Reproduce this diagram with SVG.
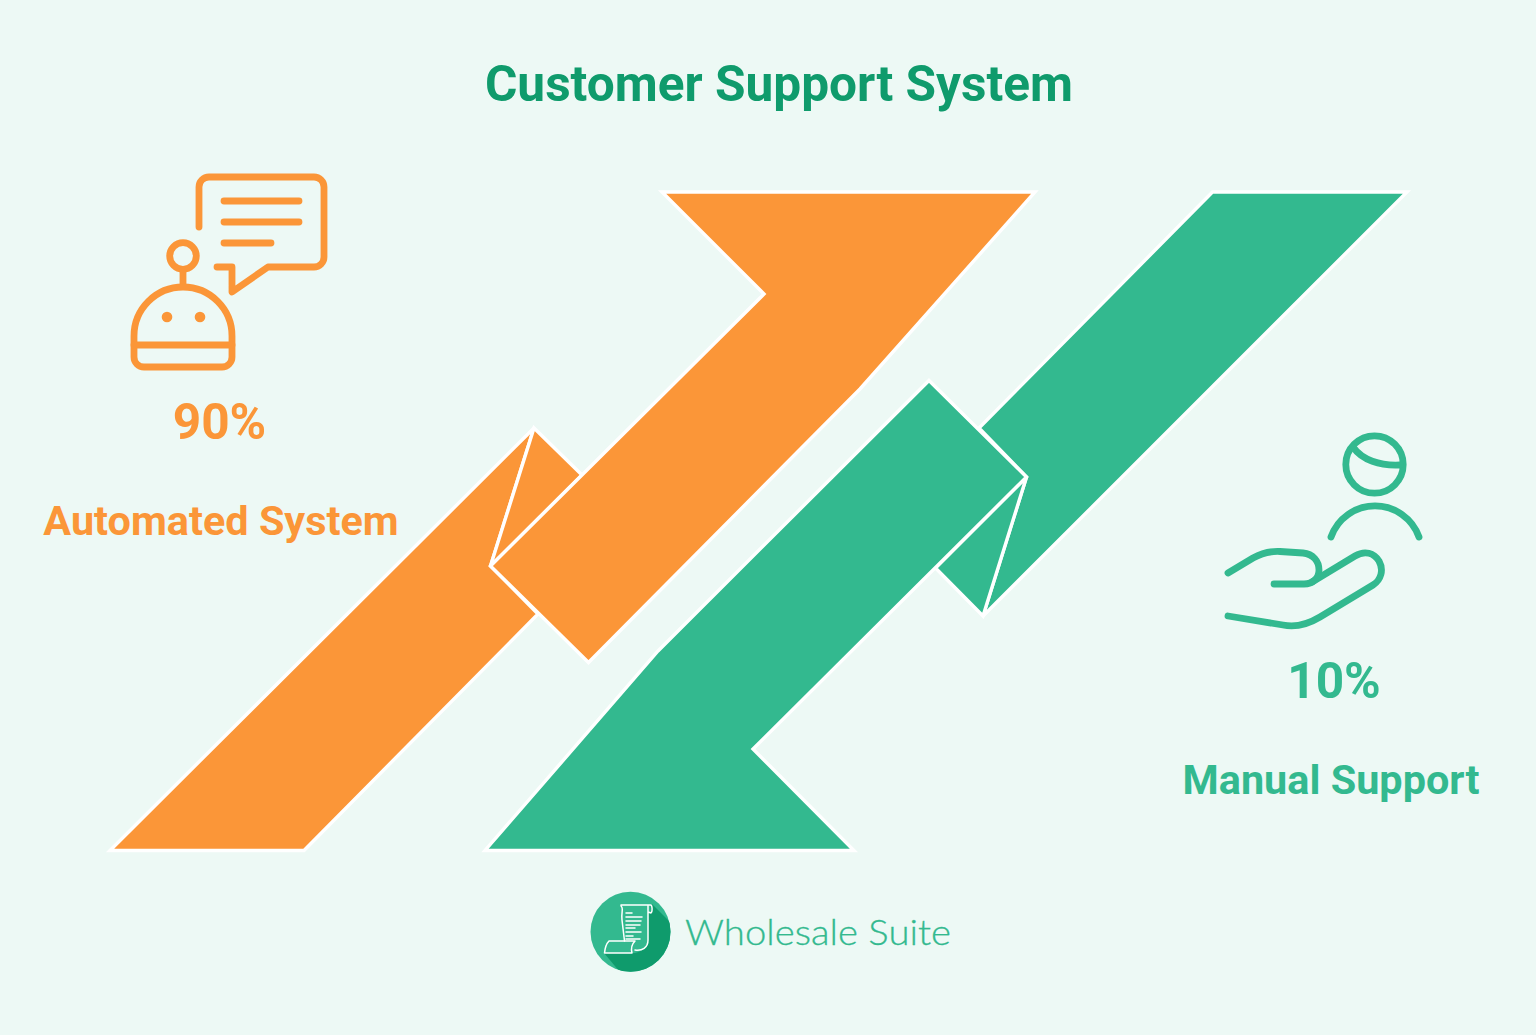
<svg xmlns="http://www.w3.org/2000/svg" width="1536" height="1035" viewBox="0 0 1536 1035">
<style>
.t{font-family:Roboto,"Liberation Sans",sans-serif;font-weight:700}
.o{fill:#fb9638}.g{fill:#33b98f}
.ar{stroke:#fff;stroke-width:3.400;stroke-linejoin:miter}
.io{fill:none;stroke:#fb9638;stroke-width:6.800;stroke-linecap:round;stroke-linejoin:round}
.ig{fill:none;stroke:#33b98f;stroke-width:6.800;stroke-linecap:round;stroke-linejoin:round}
.s{fill:none;stroke:#fff;stroke-width:1.500;stroke-linejoin:round;stroke-linecap:round}
</style>
<defs><clipPath id="c"><circle cx="630.5" cy="931.7" r="40"/></clipPath></defs>
<rect id="background" width="1536" height="1035" fill="#edf9f5"/>
<text id="title" class="t" x="779" y="100.500" font-size="49.600" text-anchor="middle" fill="#0f9b6c">Customer Support System</text>
<g id="orange-arrow">
<polygon class="o ar" points="110,850.500 534,428 490.500,566 538,614 304,850.500"/>
<polygon class="o ar" points="534,428 582,475 490.500,566"/>
<polygon class="o ar" points="662,192 1035,192 860,389 588.500,662.500 490.500,566 764,294"/>
</g>
<g id="green-arrow">
<polygon class="g ar" points="1212.500,192 1407,192 983,616 1026.500,477 979,428"/>
<polygon class="g ar" points="1026.500,477 983,616 935.500,568"/>
<polygon class="g ar" points="929,380.500 1026.500,477 753,749 854,850.500 485,850.500 658,651"/>
</g>
<g id="automated-node">
<g class="io">
<path d="M199 227V187a10 10 0 0 1 10-10H314a10 10 0 0 1 10 10V257a10 10 0 0 1-10 10H268L232 292V267H217"/>
<path d="M224 201H299M224 222H299M224 243H271"/>
<circle cx="183" cy="256" r="13.300"/>
<path d="M183 270V285"/>
<path d="M134 336a49 49 0 0 1 98 0V357a10 10 0 0 1-10 10H144a10 10 0 0 1-10-10Z"/>
<path d="M134 345H232"/>
</g>
<circle class="o" cx="167" cy="317" r="5.300"/>
<circle class="o" cx="200" cy="317" r="5.300"/>
<text class="t" x="219.500" y="438.500" font-size="49.600" text-anchor="middle" fill="#fb9638">90%</text>
<text class="t" x="221" y="535" font-size="41.400" text-anchor="middle" fill="#fb9638">Automated System</text>
</g>
<g id="manual-node">
<g class="ig">
<circle cx="1374.500" cy="464.500" r="28.700"/>
<path d="M1353 447C1362 460 1380 466 1400 465"/>
<path d="M1331 537A46.700 46.700 0 0 1 1419 537"/>
<path d="M1228 573L1253 558C1262 553 1270 551 1280 551.500L1303 553C1313 554 1319 561 1319 570C1319 578 1313 584 1304 584H1274"/>
<path d="M1312 582L1355 556C1365 550 1374 553 1379 561C1384 570 1381 580 1373 585L1320 617C1310 623 1297 628 1283 625L1228 616"/>
</g>
<text class="t" x="1334" y="697.500" font-size="49.600" text-anchor="middle" fill="#33b98f">10%</text>
<text class="t" x="1331" y="794" font-size="41.400" text-anchor="middle" fill="#33b98f">Manual Support</text>
</g>
<g id="logo">
<circle class="g" cx="630.500" cy="931.700" r="40"/>
<polygon clip-path="url(#c)" fill="#0f9b6c" points="652,904 692,944 640,996 604,953 625,940"/>
<path class="g" d="M621 905H650.500L651 913L648 912V940C648 948 642 951 635 953H604.500C605 948 606 944 609 941H624.500L622 920Z"/>
<path class="s" d="M621 906C624 908 621 912 622 920L624.500 941M621 905H650.500C652.500 905 652.500 912 651 913L648 912M648 906V940C648 948 642 951 635 950"/>
<path class="s" d="M609 941H635C632 944 631 949 632 953H604.500C605 948 606 944 609 941Z"/>
<path class="s" d="M626 913H632M626 917H642M626 921H641M626 925H640M626 928H635M626 932H641M626 936H633M626 939H640"/>
<text x="685" y="945" font-family="Lato,'Open Sans',sans-serif" font-weight="300" font-size="36" fill="#33b98f" stroke="#33b98f" stroke-width="0.300" textLength="266" lengthAdjust="spacingAndGlyphs">Wholesale Suite</text>
</g>
</svg>
